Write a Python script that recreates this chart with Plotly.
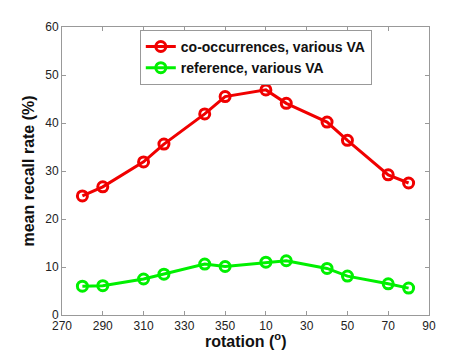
import plotly.graph_objects as go

rotation = [280, 290, 310, 320, 340, 350, 370, 380, 400, 410, 430, 440]
cooc = [24.8, 26.7, 31.9, 35.6, 41.9, 45.5, 46.9, 44.1, 40.2, 36.4, 29.2, 27.5]
reference = [6.0, 6.1, 7.5, 8.5, 10.6, 10.1, 11.0, 11.3, 9.7, 8.1, 6.5, 5.6]
xtick_vals = [270, 290, 310, 330, 350, 370, 390, 410, 430, 450]
xtick_text = [str(v % 360) for v in xtick_vals]
ytick_vals = [0, 10, 20, 30, 40, 50, 60]

fig = go.Figure()
fig.add_trace(go.Scatter(x=rotation, y=cooc, mode="lines+markers",
                         name="co-occurrences, various VA",
                         line=dict(color="#f00000", width=3),
                         marker=dict(symbol="circle-open", size=10, color="#f00000",
                                     line=dict(width=3, color="#f00000"))))
fig.add_trace(go.Scatter(x=rotation, y=reference, mode="lines+markers",
                         name="reference, various VA",
                         line=dict(color="#00f000", width=3),
                         marker=dict(symbol="circle-open", size=10, color="#00f000",
                                     line=dict(width=3, color="#00f000"))))

axis_common = dict(showgrid=False, zeroline=False, showline=True, linecolor="#999999",
                   linewidth=1, mirror="ticks", ticks="inside", ticklen=4,
                   tickcolor="#999999", automargin=False,
                   tickfont=dict(family="Liberation Sans, Arial", size=12, color="#222222"))

fig.update_layout(
    width=474, height=355,
    margin=dict(l=62, r=45, t=27, b=40, autoexpand=False),
    paper_bgcolor="white", plot_bgcolor="white",
    font=dict(family="Liberation Sans, Arial", color="#111111"),
    xaxis=dict(range=[270, 450], tickvals=xtick_vals, ticktext=xtick_text,
               **axis_common),
    yaxis=dict(range=[0, 60], tickvals=ytick_vals,
               title=dict(text="<b>mean recall rate (%)</b>", font=dict(size=16), standoff=6),
               **axis_common),
    legend=dict(x=0.212, y=0.99, xanchor="left", yanchor="top",
                bordercolor="#999999", borderwidth=1, bgcolor="white",
                font=dict(size=14, family="Liberation Sans, Arial", weight="bold", color="#111111"),
                itemwidth=30, tracegroupgap=0),
    showlegend=True,
    annotations=[dict(text="<b>rotation (<sup>o</sup>)</b>", xref="paper", yref="paper",
                      x=0.5, y=-0.128, xanchor="center", yanchor="bottom",
                      showarrow=False, font=dict(size=16, color="#111111"))],
)

fig.write_html("out.html", config={"displayModeBar": False},
               post_script="document.body.style.margin='0';document.body.style.overflow='hidden';")
